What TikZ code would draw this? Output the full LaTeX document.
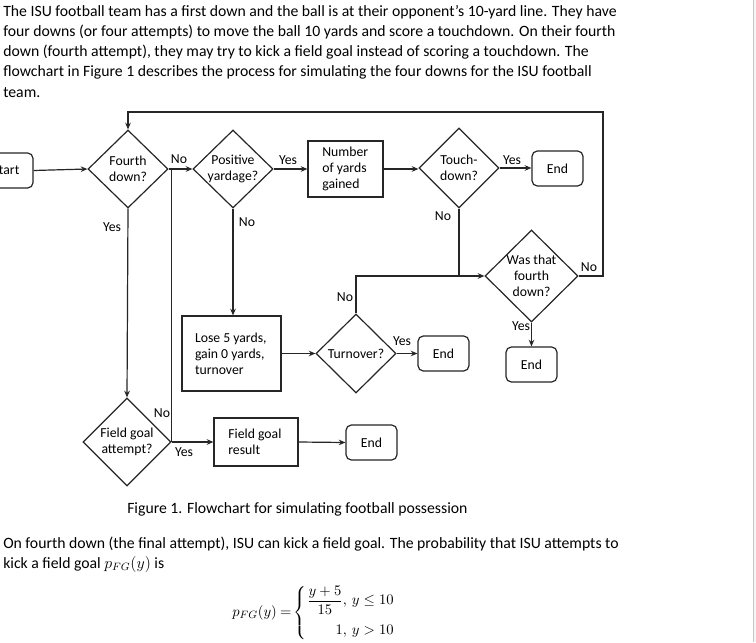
\documentclass[tikz,border=0pt]{standalone}
\usepackage{amsmath}
\usepackage{fontspec}
\setmainfont{Carlito}
\usetikzlibrary{shapes.geometric,arrows.meta}
\begin{document}
\begin{tikzpicture}[x=0.75pt,y=-0.75pt,
  ln/.style={line width=0.9pt, draw=black!85},
  arr/.style={ln, -{Stealth[length=5pt,width=4.2pt]}},
  ft/.style={font=\fontsize{10.3}{12}\selectfont},
  dia/.style={diamond, draw=black!85, line width=0.9pt, inner sep=0pt},
  box/.style={rectangle, draw=black!85, line width=0.9pt, inner sep=0pt},
  endbox/.style={box, rounded corners=4pt, ft},
  dtext/.style={ft, align=center, inner sep=0pt},
  ltext/.style={ft, align=left, anchor=west, xshift=11pt, inner sep=0pt},
  lbl/.style={ft, inner sep=0pt},
  body/.style={font=\fontsize{11.8}{15}\selectfont, inner sep=0pt, anchor=base west}
]
\useasboundingbox (0,0) rectangle (756,642);
\clip (0,0) rectangle (756,642);
\fill[white] (0,0) rectangle (756,642);
\fill[black!4] (753,0) rectangle (756,642);
\draw[black!22, line width=0.75pt] (753.5,0) -- (753.5,642);

% top paragraph
\node[body] (t1) at (3,17) {The ISU football team has a first down and the ball is at their opponent’s 10-yard line. They have};
\node[body] (t2) at (3,37) {four downs (or four attempts) to move the ball 10 yards and score a touchdown. On their fourth};
\node[body] (t3) at (3,57) {down (fourth attempt), they may try to kick a field goal instead of scoring a touchdown. The};
\node[body] (t4) at (3,77) {flowchart in Figure 1 describes the process for simulating the four downs for the ISU football};
\node[body] (t5) at (3,97) {team.};

% nodes
\node[endbox, minimum width=40.5pt, minimum height=26.25pt] (start) at (6,170.5) {Start};
\node[dia, minimum width=60pt, minimum height=58.5pt, label={[dtext]center:{Fourth\\down?}}] (fourth) at (128,169) {};
\node[dia, minimum width=60pt, minimum height=58.5pt, label={[dtext]center:{Positive\\yardage?}}] (pos) at (233,169) {};
\node[box, minimum width=56.25pt, minimum height=42pt, label={[ltext]west:{Number\\of yards\\gained}}] (num) at (345.5,169) {};
\node[dia, minimum width=60pt, minimum height=60pt, label={[dtext]center:{Touch-\\down?}}] (touch) at (459,168) {};
\node[endbox, minimum width=38.25pt, minimum height=26.25pt] (end1) at (557.5,168.5) {End};
\node[dia, minimum width=69.75pt, minimum height=69pt, label={[dtext]center:{Was that\\fourth\\down?}}] (was) at (531.5,276) {};
\node[endbox, minimum width=38.25pt, minimum height=26.25pt] (end3) at (531.5,364.5) {End};
\node[box, minimum width=74.25pt, minimum height=56.25pt, label={[ltext, xshift=-1pt]west:{Lose 5 yards,\\gain 0 yards,\\turnover}}] (lose) at (231.5,353.5) {};
\node[dia, minimum width=60pt, minimum height=59.25pt, label={[dtext]center:{Turnover?}}] (turn) at (356,353.5) {};
\node[endbox, minimum width=38.25pt, minimum height=26.25pt] (end2) at (443.5,353.5) {End};
\node[dia, minimum width=66pt, minimum height=66pt, label={[dtext]center:{Field goal\\attempt?}}] (fga) at (127,442) {};
\node[box, minimum width=63pt, minimum height=36pt, label={[ltext]west:{Field goal\\result}}] (fgr) at (256,442) {};
\node[endbox, minimum width=38.25pt, minimum height=26.25pt] (end4) at (371.5,442.5) {End};

\coordinate (loopR) at (603,112);

% connectors
\draw[arr] (start.east) -- (fourth.west);
\draw[arr] (fourth.east) -- (pos.west);
\draw[arr] (pos.east) -- (num.west);
\draw[arr] (num.east) -- (num.east -| touch.west);
\draw[arr] (touch.east) -- (touch.east -| end1.west);
\draw[ln] (touch.south) -- (touch.south |- was.west);
\draw[arr] (turn.north) |- (was.west);
\draw[arr] (was.east) -| (loopR) -| (fourth.north);
\draw[arr] (was.south) -- (end3.north);
\draw[arr] (pos.south) -- (pos.south |- lose.north);
\draw[arr] (lose.east) -- (turn.west);
\draw[arr] (turn.east) -- (end2.west);
\draw[arr] (fourth.south) -- (fga.north);
\draw[ln] (fga.east) -- (fga.east |- fourth.east);
\draw[arr] (fga.east) -- (fgr.west);
\draw[arr] (fgr.east) -- (end4.west);

% connector labels
\node[lbl] (l1) at (179,159) {No};
\node[lbl] (l2) at (288,160) {Yes};
\node[lbl] (l3) at (112,227) {Yes};
\node[lbl] (l4) at (247,222) {No};
\node[lbl] (l5) at (443,216) {No};
\node[lbl] (l6) at (512,160) {Yes};
\node[lbl] (l7) at (589,267) {No};
\node[lbl] (l8) at (345,297) {No};
\node[lbl] (l9) at (521,326) {Yes};
\node[lbl] (l10) at (402,341) {Yes};
\node[lbl] (l11) at (162,413) {No};
\node[lbl] (l12) at (184,452) {Yes};

% caption and second paragraph
\node[body] (cap) at (127,513) {Figure 1. Flowchart for simulating football possession};
\node[body] (p1) at (3,548) {On fourth down (the final attempt), ISU can kick a field goal. The probability that ISU attempts to};
\node[body] (p2) at (3,568) {kick a field goal $p_{FG}(y)$ is};
\node[font=\fontsize{11.2}{15}\selectfont, inner sep=0pt, anchor=west] (eq) at (232,613)
  {$p_{FG}(y)\mkern-1mu=\mkern-2mu\left\{\begin{array}{@{}r@{}}\dfrac{y+5}{15},\,y\le 10\\[7pt] 1,\,y>10\end{array}\right.$};
\end{tikzpicture}
\end{document}
